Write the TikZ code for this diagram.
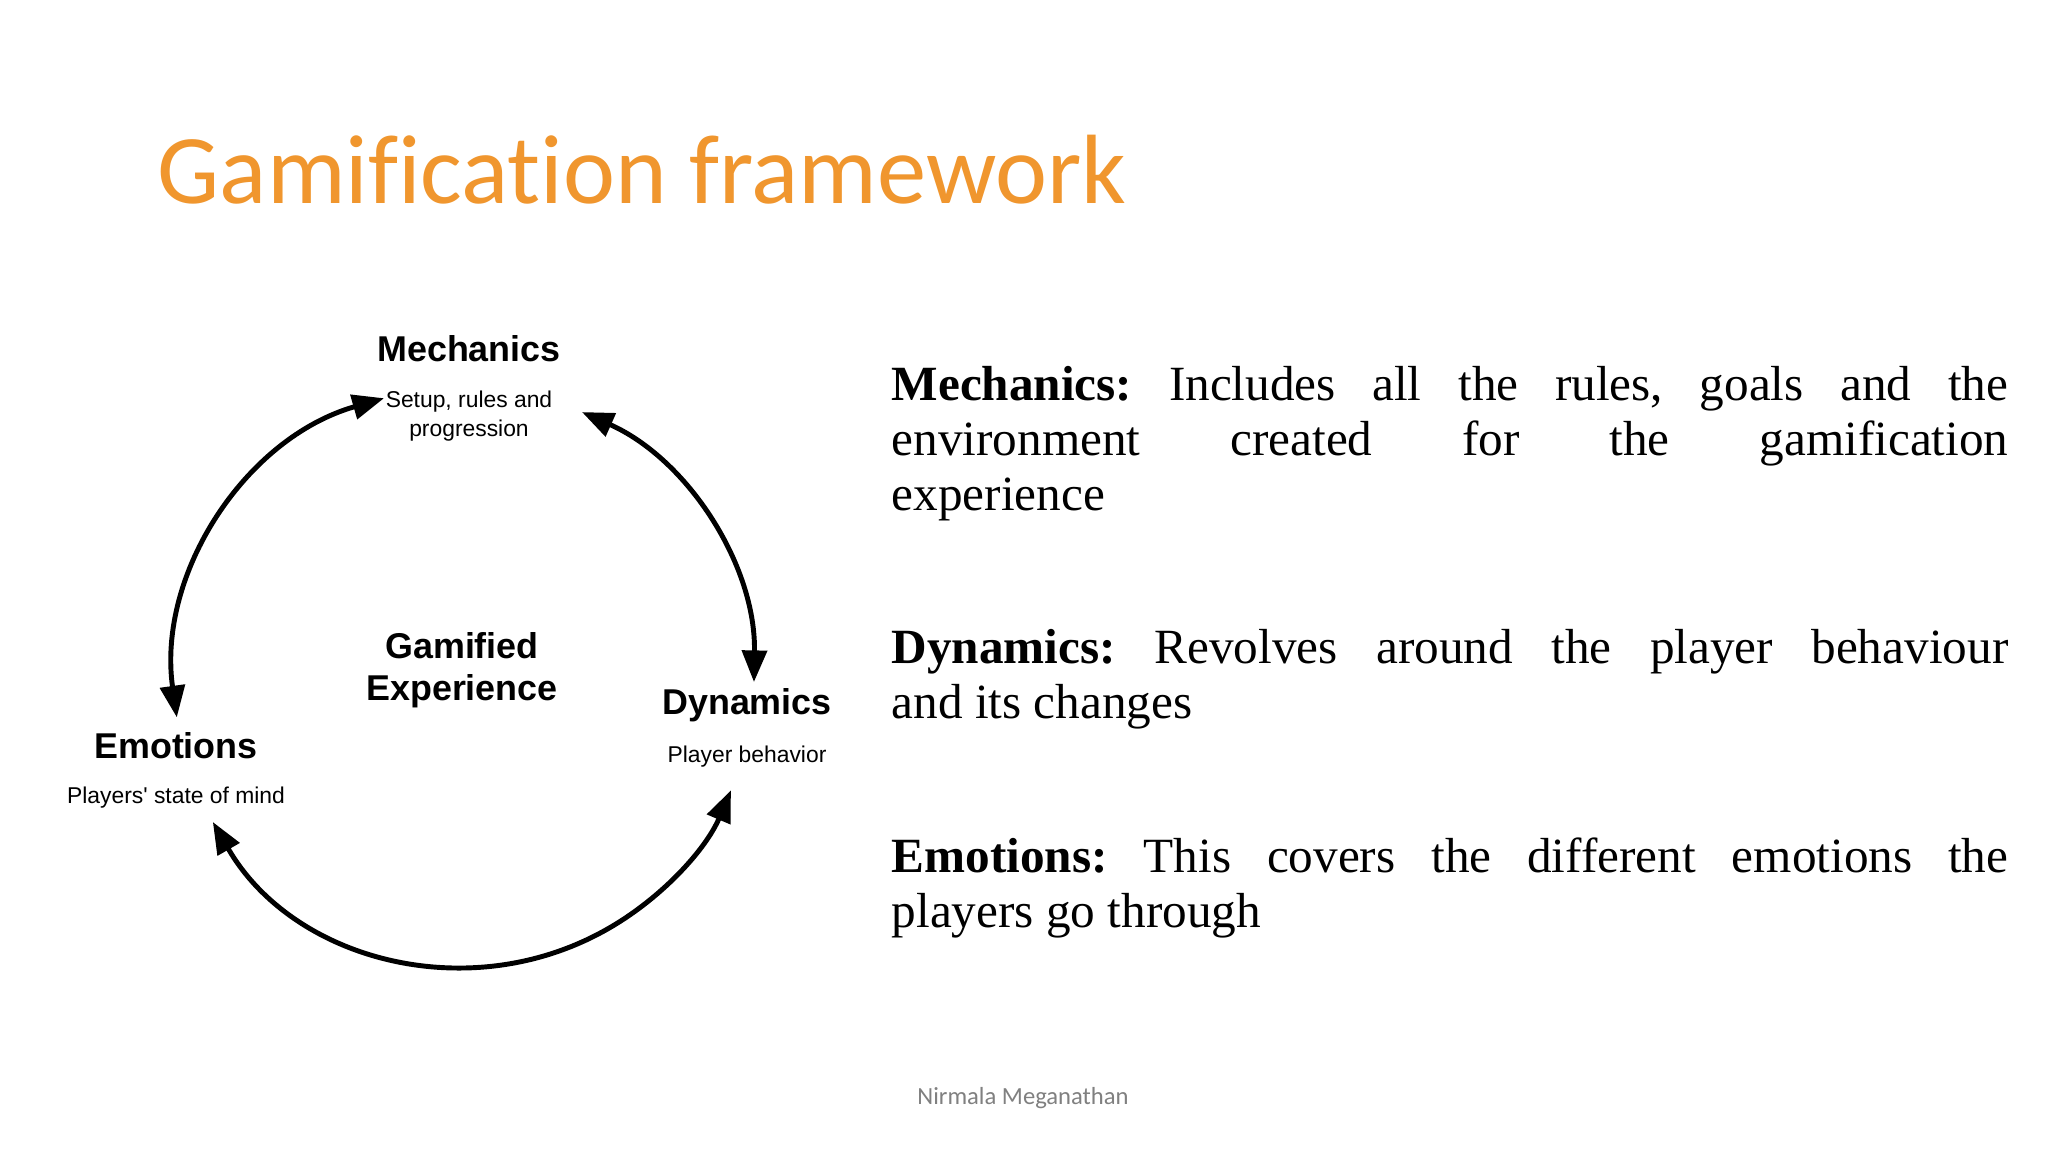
\documentclass[tikz,border=0pt]{standalone}
\usepackage{fontspec}
\setmainfont{Liberation Serif}
\newfontfamily\arialf{Liberation Sans}
\newfontfamily\calib[Ligatures=CommonOff]{Carlito}
\usetikzlibrary{arrows.meta}
\definecolor{ttl}{HTML}{F0962E}
\frenchspacing
\tikzset{
 big/.style={font=\arialf\bfseries\fontsize{10.2}{12}\selectfont, align=center},
 small/.style={font=\arialf\fontsize{6.5}{8.2}\selectfont, align=center},
 cyc/.style={line width=1.4pt, {Triangle[length=9pt,width=7pt]}-{Triangle[length=9pt,width=7pt]}},
 para/.style={anchor=west, text width=11.16cm, inner sep=0pt, font=\frenchspacing\fontsize{14}{15.6}\selectfont, align=justify}
}
\begin{document}
\begin{tikzpicture}[x=0.01cm,y=-0.01cm]
\useasboundingbox[fill=white] (0,0) rectangle (2048,1152);
\node[anchor=west, text=ttl, font=\calib\fontsize{28}{32}\selectfont, inner sep=0pt] (title) at (157,170) {Gamification framework};
\node[big] (mech) at (469,349) {Mechanics};
\node[small] (mechs) at (469,416) {Setup, rules and\\progression};
\node[big] (gam) at (462,670) {Gamified\\Experience};
\node[big] (dyn) at (747,705) {Dynamics};
\node[small] (dyns) at (747,757) {Player behavior};
\node[big] (emo) at (176,746) {Emotions};
\node[small] (emos) at (176,798) {Players' state of mind};
\coordinate (c) at (464,677);
\draw[cyc] ([shift={(-106:290)}]c) arc[start angle=-106, end angle=-188, radius=290];
\draw[cyc] ([shift={(-66:290)}]c) arc[start angle=-66, end angle=1, radius=290];
\draw[cyc] ([shift={(-210:290)}]c) arc[start angle=150, end angle=23, radius=290];
\node[para] (p1) at (891,444) {\textbf{Mechanics:} Includes all the rules, goals and the\linebreak environment created for the gamification\linebreak experience};
\node[para] (p2) at (891,679) {\textbf{Dynamics:} Revolves around the player behaviour\linebreak and its changes};
\node[para] (p3) at (891,888) {\textbf{Emotions:} This covers the different emotions the\linebreak players go through};
\node[text=gray, font=\calib\fontsize{7}{8}\selectfont] (foot) at (1023,1098) {Nirmala Meganathan};
\end{tikzpicture}
\end{document}
